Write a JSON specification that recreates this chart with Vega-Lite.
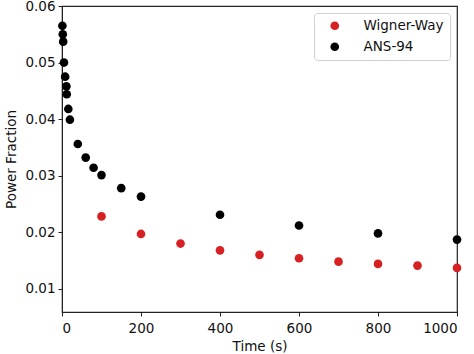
{
  "$schema": "https://vega.github.io/schema/vega-lite/v6.json",
  "width": 395,
  "height": 306,
  "autosize": {"type": "none"},
  "padding": {"left": 62, "top": 6, "right": 17, "bottom": 42},
  "background": "white",
  "config": {
    "font": "DejaVu Sans",
    "view": {"stroke": "#222", "strokeWidth": 1.2},
    "axis": {
      "grid": false,
      "domainColor": "#222",
      "tickColor": "#222",
      "tickSize": 4,
      "labelFontSize": 13.5,
      "titleFontSize": 13.5,
      "labelColor": "#111",
      "titleColor": "#111",
      "titleFontWeight": "normal",
      "labelFont": "DejaVu Sans",
      "titleFont": "DejaVu Sans"
    }
  },
  "data": {
    "values": [
      {"t": 100, "p": 0.0228, "s": "Wigner-Way"},
      {"t": 200, "p": 0.0197, "s": "Wigner-Way"},
      {"t": 300, "p": 0.0180, "s": "Wigner-Way"},
      {"t": 400, "p": 0.0168, "s": "Wigner-Way"},
      {"t": 500, "p": 0.0160, "s": "Wigner-Way"},
      {"t": 600, "p": 0.0154, "s": "Wigner-Way"},
      {"t": 700, "p": 0.0148, "s": "Wigner-Way"},
      {"t": 800, "p": 0.0144, "s": "Wigner-Way"},
      {"t": 900, "p": 0.0141, "s": "Wigner-Way"},
      {"t": 1000, "p": 0.0137, "s": "Wigner-Way"},
      {"t": 1, "p": 0.0565, "s": "ANS-94"},
      {"t": 2, "p": 0.0550, "s": "ANS-94"},
      {"t": 3, "p": 0.0537, "s": "ANS-94"},
      {"t": 5, "p": 0.0500, "s": "ANS-94"},
      {"t": 8, "p": 0.0475, "s": "ANS-94"},
      {"t": 11, "p": 0.0458, "s": "ANS-94"},
      {"t": 12, "p": 0.0444, "s": "ANS-94"},
      {"t": 16, "p": 0.0418, "s": "ANS-94"},
      {"t": 20, "p": 0.0399, "s": "ANS-94"},
      {"t": 40, "p": 0.0356, "s": "ANS-94"},
      {"t": 60, "p": 0.0332, "s": "ANS-94"},
      {"t": 80, "p": 0.0314, "s": "ANS-94"},
      {"t": 100, "p": 0.0301, "s": "ANS-94"},
      {"t": 150, "p": 0.0278, "s": "ANS-94"},
      {"t": 200, "p": 0.0263, "s": "ANS-94"},
      {"t": 400, "p": 0.0231, "s": "ANS-94"},
      {"t": 600, "p": 0.0212, "s": "ANS-94"},
      {"t": 800, "p": 0.0198, "s": "ANS-94"},
      {"t": 1000, "p": 0.0187, "s": "ANS-94"}
    ]
  },
  "mark": {"type": "circle", "size": 75, "opacity": 1, "clip": false},
  "encoding": {
    "x": {
      "field": "t",
      "type": "quantitative",
      "title": "Time (s)",
      "scale": {"domain": [0, 1000], "nice": false, "zero": false},
      "axis": {"values": [0, 200, 400, 600, 800, 1000], "format": "d", "titlePadding": 5, "labelPadding": 5}
    },
    "y": {
      "field": "p",
      "type": "quantitative",
      "title": "Power Fraction",
      "scale": {"domain": [0.0059, 0.06], "nice": false, "zero": false},
      "axis": {"values": [0.01, 0.02, 0.03, 0.04, 0.05, 0.06], "format": ".2f", "titlePadding": 6, "labelPadding": 3}
    },
    "color": {
      "field": "s",
      "type": "nominal",
      "scale": {"domain": ["Wigner-Way", "ANS-94"], "range": ["#d62021", "#000000"]},
      "legend": {
        "title": null,
        "orient": "none",
        "legendX": 252,
        "legendY": 7,
        "direction": "vertical",
        "symbolType": "circle",
        "symbolSize": 75,
        "symbolOpacity": 1,
        "symbolOffset": 8,
        "labelFontSize": 13.5,
        "labelFont": "DejaVu Sans",
        "labelColor": "#111",
        "labelOffset": 22,
        "rowPadding": 6,
        "padding": 6,
        "strokeColor": "#d0d0d0",
        "fillColor": "white",
        "cornerRadius": 3
      }
    }
  }
}
